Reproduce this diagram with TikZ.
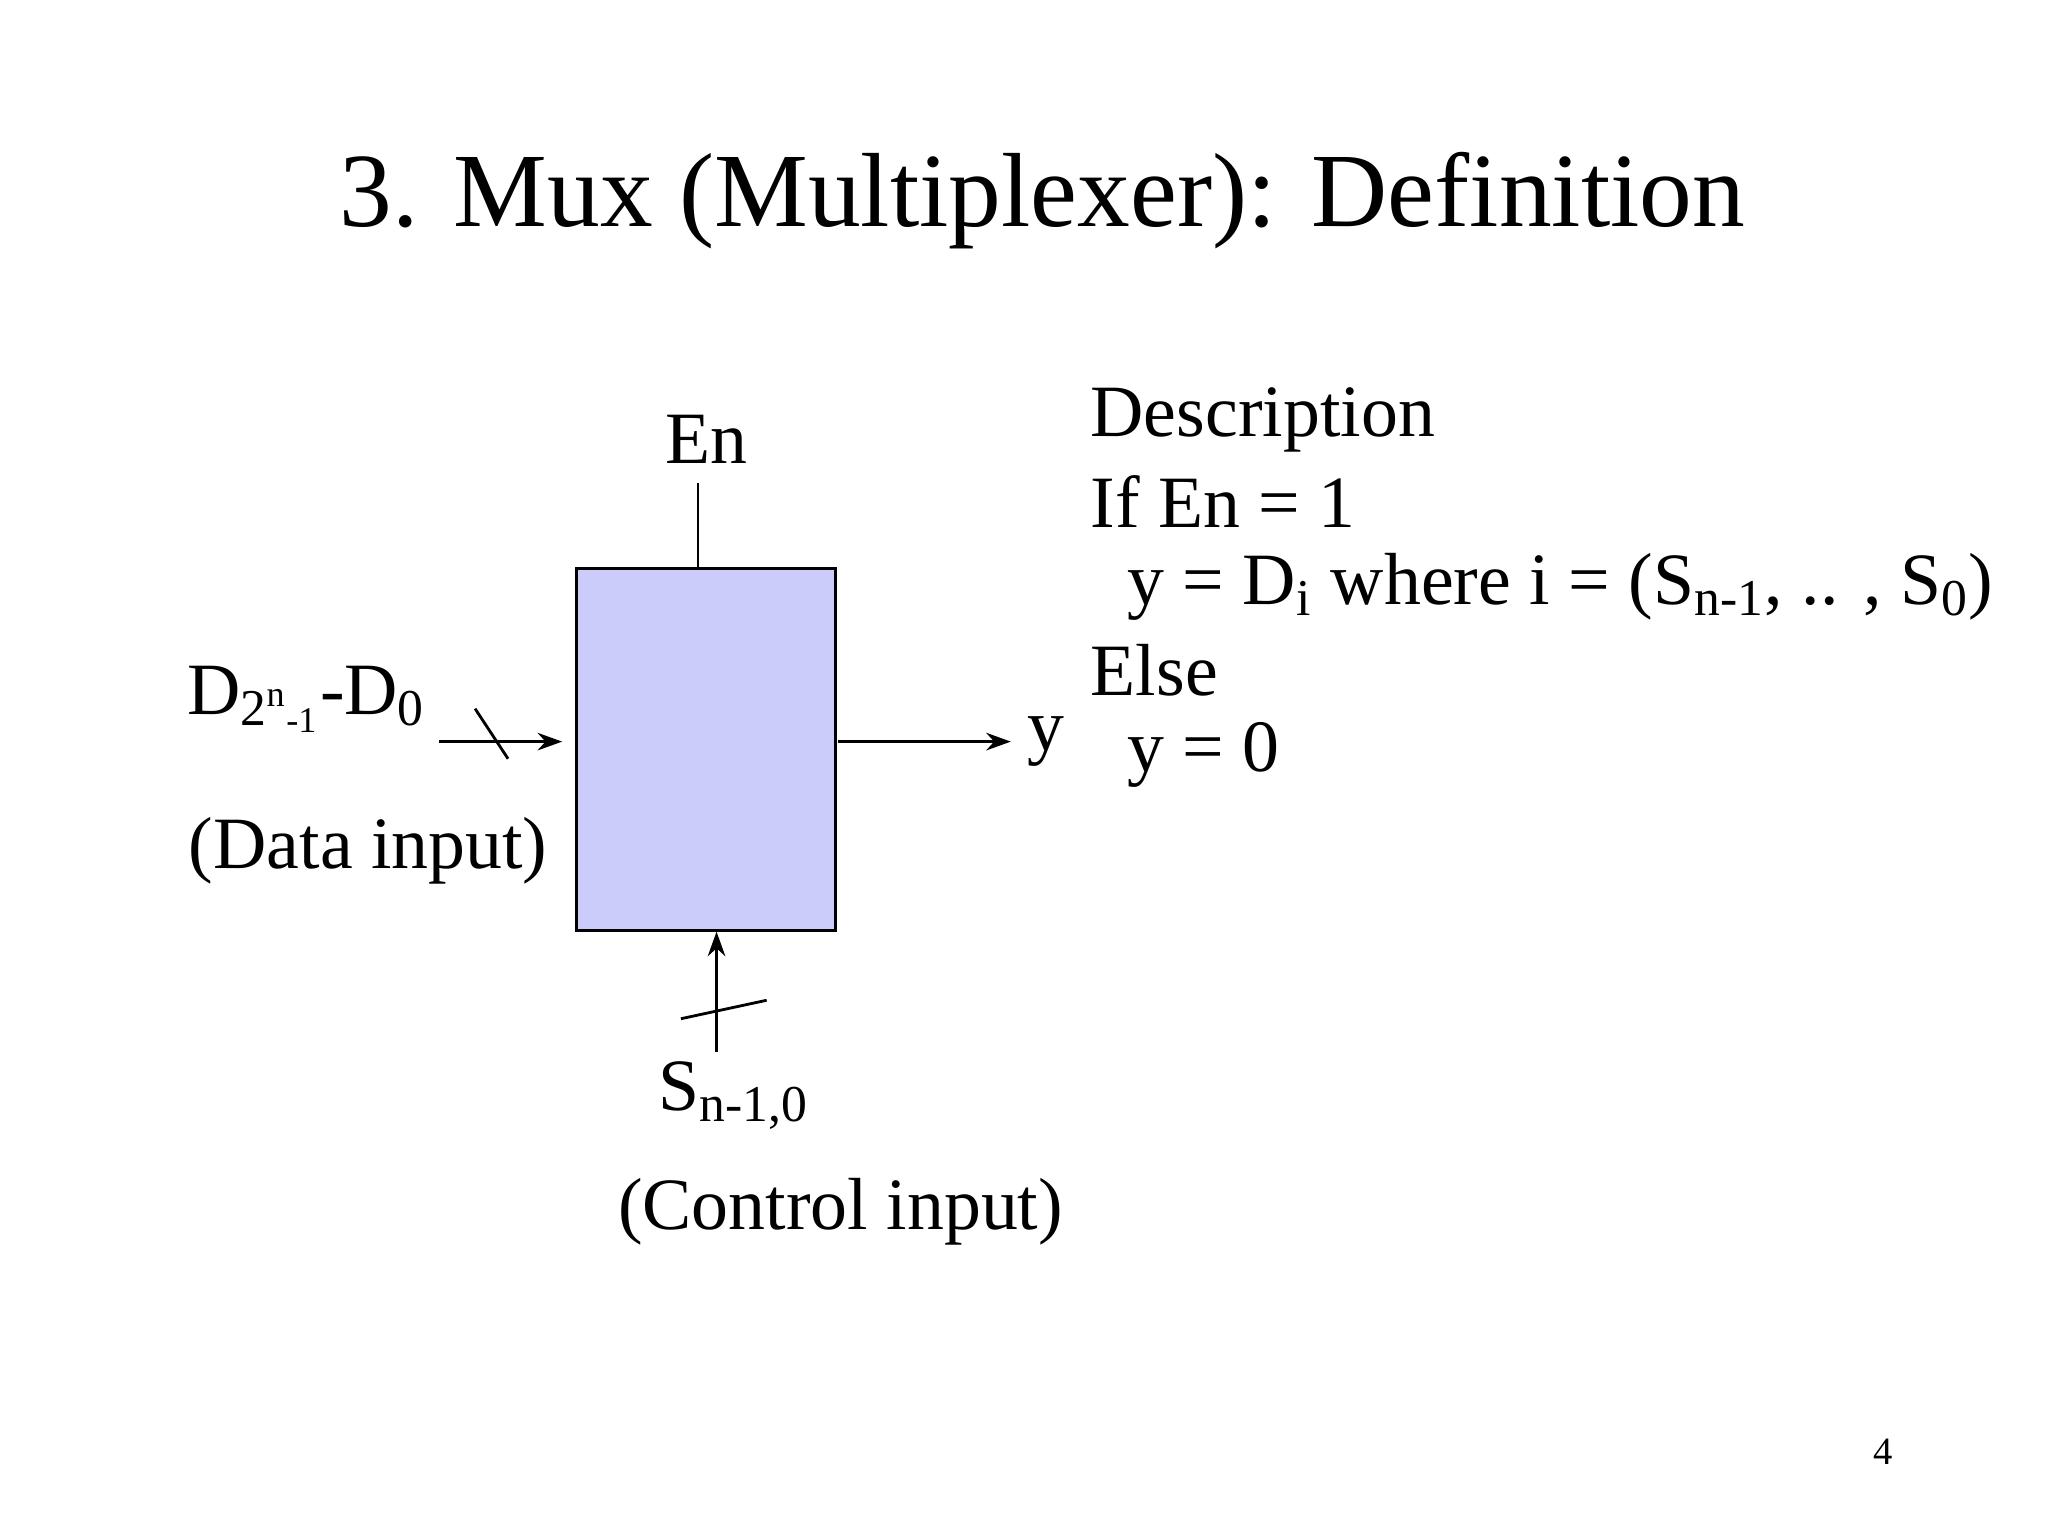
\documentclass[tikz,border=0pt]{standalone}
\usepackage{fontspec}
\setmainfont{Liberation Serif}
\usetikzlibrary{arrows.meta}
\definecolor{boxfill}{RGB}{204,204,250}
\begin{document}
\begin{tikzpicture}[x=0.013196cm,y=-0.013196cm,
  body/.style={font=\fontsize{21}{24}\selectfont,inner sep=0pt},
  wire/.style={line width=0.8pt},
  arr/.style={wire,-{Stealth[length=7pt,width=5pt]}}]
\useasboundingbox (0,0) rectangle (1552,1164);
\node[font=\fontsize{30}{34}\selectfont] (title) at (790,152) {3. Mux (Multiplexer): Definition};
\draw[wire,fill=boxfill] (437,431) rectangle (633,705);
\coordinate (boxtop) at (529,431);
\coordinate (entop) at (529,366);
\draw[wire] (entop) -- (boxtop);
\node[body] (en) at (535,333) {En};
\coordinate (din) at (333,562);
\coordinate (dout) at (426,562);
\draw[arr] (din) -- (dout);
\coordinate (s1a) at (360,537); \coordinate (s1b) at (385,575);
\draw[wire] (s1a) -- (s1b);
\node[body,anchor=east] (dlab) at (323,530) {D\textsubscript{2\textsuperscript{n}\textsubscript{-1}}-D\textsubscript{0}};
\node[body] (dinp) at (279,645) {(Data input)};
\coordinate (yin) at (635,562); \coordinate (yout) at (766,562);
\draw[arr] (yin) -- (yout);
\node[body] (y) at (793,562) {y};
\coordinate (sin) at (543,797); \coordinate (sout) at (543,706);
\draw[arr] (sin) -- (sout);
\coordinate (s2a) at (516,772); \coordinate (s2b) at (581,758);
\draw[wire] (s2a) -- (s2b);
\node[body] (slab) at (556,830) {S\textsubscript{n-1,0}};
\node[body] (cinp) at (637,918) {(Control input)};
\node[body,anchor=west] (l1) at (826,318) {Description};
\node[body,anchor=west] (l2) at (826,380) {If En = 1};
\node[body,anchor=west] (l3) at (826,445) {\ \ y = D\textsubscript{i} where i = (S\textsubscript{n-1}, .. , S\textsubscript{0})};
\node[body,anchor=west] (l4) at (826,508) {Else};
\node[body,anchor=west] (l5) at (826,572) {\ \ y = 0};
\node[font=\fontsize{11}{13}\selectfont] (pg) at (1427,1100) {4};
\end{tikzpicture}
\end{document}
